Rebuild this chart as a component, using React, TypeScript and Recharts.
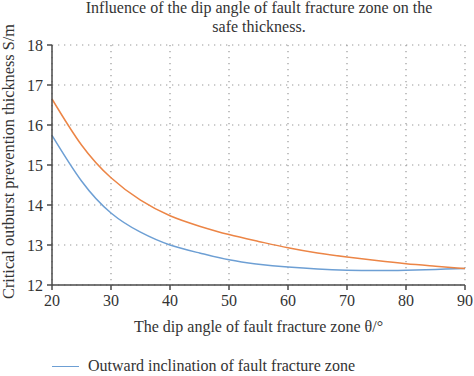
import { CartesianGrid, Legend, Line, LineChart, XAxis, YAxis, Label } from "recharts"

// dip angle of fault fracture zone (deg)
const angles = [20, 25, 30, 35, 40, 45, 50, 55, 60, 65, 70, 75, 80, 85, 90]
// critical outburst prevention thickness S/m
const outward = [15.74, 14.6, 13.8, 13.32, 13.0, 12.8, 12.63, 12.52, 12.45, 12.4, 12.37, 12.36, 12.37, 12.39, 12.41]
const inward = [16.65, 15.5, 14.68, 14.12, 13.73, 13.47, 13.26, 13.09, 12.93, 12.8, 12.7, 12.61, 12.53, 12.47, 12.41]

const xTicks = [20, 30, 40, 50, 60, 70, 80, 90]
const yTicks = [12, 13, 14, 15, 16, 17, 18]

const seriesNames = ["Outward inclination of fault fracture zone", "Inward inclination of fault fracture zone"]

const FONT = "'Liberation Serif', 'DejaVu Serif', serif"
const AXIS = "#4a4a4a"
const TEXT = "#333"

const chartData = angles.map((a, i) => ({
  angle: a,
  outward: outward[i],
  inward: inward[i],
}))

export default function App() {
  return (
    <div style={{ position: "absolute", left: 0, top: 0, width: 474, height: 376, background: "#fff", fontFamily: FONT }}>
      <div
        style={{
          position: "absolute",
          left: 39,
          width: 440,
          top: -1,
          textAlign: "center",
          fontSize: 16,
          lineHeight: "18.5px",
          color: TEXT,
        }}
      >
        Influence of the dip angle of fault fracture zone on the
        <br />
        safe thickness.
      </div>
      <LineChart width={474} height={376} data={chartData} margin={{ top: 45, right: 9, left: 0, bottom: 0 }}>
        <CartesianGrid stroke="#999" strokeDasharray="1.3 4.7" strokeWidth={1.2} />
        <XAxis
          dataKey="angle"
          type="number"
          domain={[20, 90]}
          ticks={xTicks}
          interval={0}
          height={71}
          stroke={AXIS}
          strokeWidth={1.5}
          tickSize={5}
          tickMargin={5}
          tick={{ fontSize: 16, fill: TEXT, fontFamily: FONT }}
        >
          <Label position="insideTop" offset={36} style={{ fontSize: 16, fill: TEXT, fontFamily: FONT }}>
            {"The dip angle of fault fracture zone θ/°"}
          </Label>
        </XAxis>
        <YAxis
          type="number"
          domain={[12, 18]}
          ticks={yTicks}
          interval={0}
          width={52}
          stroke={AXIS}
          strokeWidth={1.5}
          tickSize={5}
          tickMargin={4}
          tick={{ fontSize: 16, fill: TEXT, fontFamily: FONT }}
        >
          <Label
            angle={-90}
            position="center"
            dx={-17.5}
            dy={-3.5}
            style={{ fontSize: 16.3, fill: TEXT, fontFamily: FONT, textAnchor: "middle" }}
          >
            Critical outburst prevention thickness S/m
          </Label>
        </YAxis>
        <Legend
          verticalAlign="bottom"
          align="left"
          wrapperStyle={{ left: 52, bottom: 0 }}
          content={() => (
            <div style={{ display: "flex", alignItems: "center", height: 20, fontSize: 16, lineHeight: "20px", color: TEXT, fontFamily: FONT }}>
              <span style={{ display: "inline-block", width: 27, height: 0, borderTop: "1.5px solid #6d9fd4", marginRight: 9 }} />
              {seriesNames[0]}
            </div>
          )}
        />
        <Line
          name={seriesNames[0]}
          dataKey="outward"
          type="natural"
          stroke="#6d9fd4"
          strokeWidth={1.5}
          dot={false}
          isAnimationActive={false}
        />
        <Line
          name={seriesNames[1]}
          dataKey="inward"
          type="natural"
          stroke="#ec8546"
          strokeWidth={1.5}
          dot={false}
          isAnimationActive={false}
        />
      </LineChart>
    </div>
  )
}
